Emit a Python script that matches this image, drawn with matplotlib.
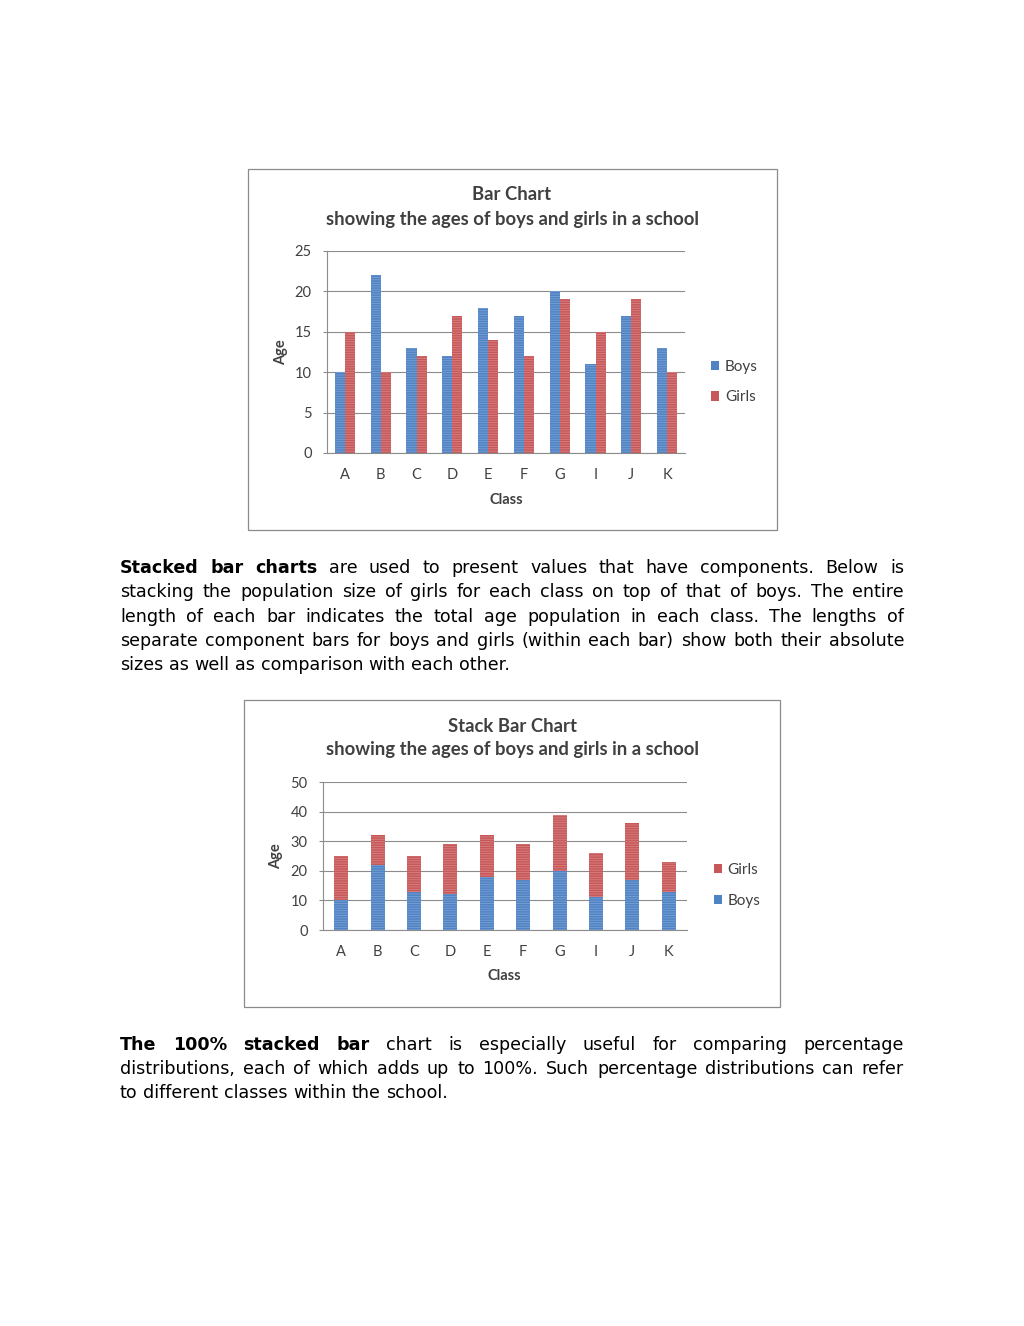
import matplotlib
matplotlib.use("Agg")
import matplotlib.pyplot as plt
from matplotlib.patches import Rectangle, Patch

# Data
classes = ["A", "B", "C", "D", "E", "F", "G", "I", "J", "K"]
boys = [10, 22, 13, 12, 18, 17, 20, 11, 17, 13]
girls = [15, 10, 12, 17, 14, 12, 19, 15, 19, 10]

para1 = [
    [("Stacked", True), ("bar", True), ("charts", True), ("are", False), ("used", False), ("to", False),
     ("present", False), ("values", False), ("that", False), ("have", False), ("components.", False),
     ("Below", False), ("is", False)],
    "stacking the population size of girls for each class on top of that of boys. The entire",
    "length of each bar indicates the total age population in each class. The lengths of",
    "separate component bars for boys and girls (within each bar) show both their absolute",
    "sizes as well as comparison with each other.",
]
para2 = [
    [("The", True), ("100%", True), ("stacked", True), ("bar", True), ("chart", False), ("is", False),
     ("especially", False), ("useful", False), ("for", False), ("comparing", False), ("percentage", False)],
    "distributions, each of which adds up to 100%. Such percentage distributions can refer",
    "to different classes within the school.",
]

W, H = 1024, 1326
BLUE, BLUE_H = "#5083C3", "#79A0D6"
RED, RED_H = "#C7585A", "#D98281"
TXT = "#404040"
GRID = "#8C8C8C"
CHART_FONT = "Lato"

plt.rcParams["hatch.linewidth"] = 0.6

fig = plt.figure(figsize=(W / 100, H / 100), dpi=100, facecolor="white")


def fx(x):
    return x / W


def fy(y):
    return 1 - y / H


def frame(x0, y0, x1, y1):
    fig.patches.append(Rectangle((fx(x0), fy(y1)), fx(x1 - x0), (y1 - y0) / H,
                                 transform=fig.transFigure, fill=False,
                                 edgecolor="#8A8A8A", linewidth=0.9))


def style_axes(ax, ymax, step):
    ax.set_xlim(-0.5, len(classes) - 0.5)
    ax.set_ylim(0, ymax)
    ax.set_yticks(range(0, ymax + 1, step))
    ax.set_xticks(range(len(classes)))
    ax.set_xticklabels(classes)
    ax.grid(True, axis="y", color=GRID, linewidth=0.8)
    ax.set_axisbelow(True)
    for s in ["top", "right"]:
        ax.spines[s].set_visible(False)
    for s in ["left", "bottom"]:
        ax.spines[s].set_color(GRID)
        ax.spines[s].set_linewidth(0.8)
    ax.tick_params(axis="y", length=3, color=GRID, labelsize=10.5, labelcolor=TXT, pad=8)
    ax.tick_params(axis="x", length=0, labelsize=10.5, labelcolor=TXT, pad=11)
    for lab in ax.get_xticklabels() + ax.get_yticklabels():
        lab.set_family(CHART_FONT)


def titles(y_title, y_sub, title):
    fig.text(fx(512), fy(y_title), title, ha="center", va="center", fontsize=13.3,
             fontweight="bold", color=TXT, family=CHART_FONT)
    fig.text(fx(512), fy(y_sub), "showing the ages of boys and girls in a school", ha="center",
             va="center", fontsize=13.3, fontweight="bold", color=TXT, family=CHART_FONT)


def axis_labels(x_age, y_age, x_class, y_class):
    fig.text(fx(x_age), fy(y_age), "Age", rotation=90, ha="center", va="center", fontsize=10.5,
             fontweight="bold", color=TXT, family=CHART_FONT)
    fig.text(fx(x_class), fy(y_class), "Class", ha="center", va="center", fontsize=10.5,
             fontweight="bold", color=TXT, family=CHART_FONT)


def legend(hs, x, y, spacing):
    fig.legend(handles=hs, loc="center left", bbox_to_anchor=(fx(x), fy(y)),
               frameon=False, borderpad=0, borderaxespad=0, handlelength=0.55, handleheight=0.55,
               handletextpad=0.35, labelspacing=spacing,
               prop={"family": CHART_FONT, "size": 11}, labelcolor=TXT)


handles = [Patch(facecolor=BLUE, label="Boys"), Patch(facecolor=RED, label="Girls")]
x = range(len(classes))

# ---- Chart 1: clustered bars
frame(248, 169, 777, 530)
ax1 = fig.add_axes([fx(327), fy(453), fx(358), (453 - 251) / H])
w = 0.28
ax1.bar([i - w / 2 for i in x], boys, width=w, color=BLUE, edgecolor=BLUE_H,
        linewidth=0, hatch="-------")
ax1.bar([i + w / 2 for i in x], girls, width=w, color=RED, edgecolor=RED_H,
        linewidth=0, hatch="-------")
style_axes(ax1, 25, 5)
titles(195, 219, "Bar Chart")
axis_labels(281, 352, 506, 500)
legend(handles, 711, 382, 1.1)

# ---- Chart 2: stacked bars
frame(244, 700, 780, 1007)
ax2 = fig.add_axes([fx(323), fy(930), fx(364), (930 - 782) / H])
w2 = 0.39
ax2.bar(x, boys, width=w2, color=BLUE, edgecolor=BLUE_H, linewidth=0, hatch="-------")
ax2.bar(x, girls, width=w2, bottom=boys, color=RED, edgecolor=RED_H, linewidth=0,
        hatch="-------")
style_axes(ax2, 50, 10)
titles(726, 750, "Stack Bar Chart")
axis_labels(276, 856, 504, 976)
legend(handles[::-1], 714, 885.5, 1.15)

# ---- Justified paragraphs
renderer = fig.canvas.get_renderer()
LEFT, RIGHT = 120, 904
PSIZE = 12.6


def text_width(s, bold=False):
    t = fig.text(0, 0, s, fontsize=PSIZE, fontweight="bold" if bold else "normal",
                 family="DejaVu Sans")
    wd = t.get_window_extent(renderer).width
    t.remove()
    return wd


SPACE = text_width("a a") - text_width("aa")


def draw_paragraph(lines, y0, dy):
    for n, line in enumerate(lines):
        if isinstance(line, str):
            words = [(wd, False) for wd in line.split()]
        else:
            words = line
        texts = []
        for wd, bold in words:
            t = fig.text(0, fy(y0 + n * dy + 6), wd, ha="left", va="baseline", fontsize=PSIZE,
                         fontweight="bold" if bold else "normal", color="black",
                         family="DejaVu Sans")
            texts.append(t)
        widths = [t.get_window_extent(renderer).width for t in texts]
        if n == len(lines) - 1:
            gap = SPACE
        else:
            gap = (RIGHT - LEFT - sum(widths)) / (len(texts) - 1)
        xp = LEFT
        for t, wdt in zip(texts, widths):
            t.set_x(fx(xp))
            xp += wdt + gap


draw_paragraph(para1, 567, 24.3)
draw_paragraph(para2, 1044, 24)

fig.savefig("out.png", dpi=100, facecolor="white")
